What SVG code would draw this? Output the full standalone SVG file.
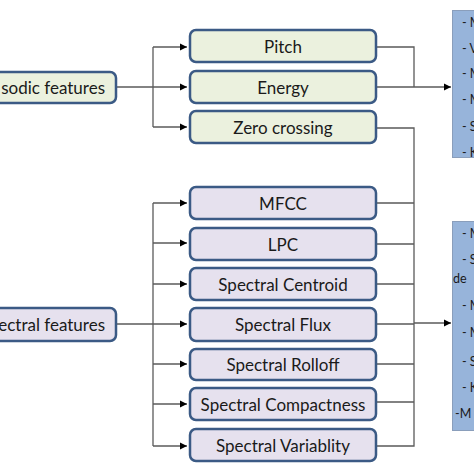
<svg xmlns="http://www.w3.org/2000/svg" width="474" height="474" viewBox="0 0 474 474">
<defs>
<marker id="arr" markerWidth="8" markerHeight="8" refX="7" refY="4" orient="auto" markerUnits="userSpaceOnUse">
<path d="M0,0.5 L7,4 L0,7.5 Z" fill="#000"/>
</marker>
<style>
.g{fill:#EBF1DE;stroke:#3B5A85;stroke-width:2.5}
.p{fill:#E6E1EE;stroke:#3B5A85;stroke-width:2.5}
.b{fill:#97B4DA;stroke:#8A9EBB;stroke-width:1}
.t{font-family:Lato,"Open Sans",sans-serif;font-size:17px;fill:#1a1a1a;text-anchor:middle}
.tl{font-family:Lato,"Open Sans",sans-serif;font-size:17px;fill:#1a1a1a;text-anchor:end}
.s{font-family:Lato,"Open Sans",sans-serif;font-size:12.5px;fill:#1a1a1a}
.c{fill:none;stroke:#5a5a5a;stroke-width:1.3}
.a{fill:none;stroke:#5a5a5a;stroke-width:1.3;marker-end:url(#arr)}
</style>
</defs>
<g id="connectors">
<path class="a" d="M117,87 H187"/>
<path class="c" d="M153,47 V127"/>
<path class="a" d="M153,47 H187"/>
<path class="a" d="M153,127 H187"/>
<path class="a" d="M117,324 H187"/>
<path class="c" d="M153,203 V446"/>
<path class="a" d="M153,203 H187"/>
<path class="a" d="M153,243 H187"/>
<path class="a" d="M153,284 H187"/>
<path class="a" d="M153,364 H187"/>
<path class="a" d="M153,404 H187"/>
<path class="a" d="M153,446 H187"/>
<path class="c" d="M377,47 H414 V87 M377,87 H414"/>
<path class="a" d="M414,87 H451"/>
<path class="c" d="M377,128 H414 V446 H377 M377,203 H414 M377,244 H414 M377,284 H414 M377,324 H414 M377,364 H414 M377,402 H414"/>
<path class="a" d="M414,323 H451"/>
</g>
<g id="prosodic"><rect class="g" x="-10" y="72" width="126" height="31" rx="6"/><text class="tl" x="105" y="94">sodic features</text></g>
<g id="spectral"><rect class="p" x="-10" y="308" width="126" height="33" rx="6"/><text class="tl" x="105" y="331">ectral features</text></g>
<g id="pitch"><rect class="g" x="190" y="30" width="186" height="32" rx="6"/><text class="t" x="283" y="53">Pitch</text></g>
<g id="energy"><rect class="g" x="190" y="71" width="186" height="32" rx="6"/><text class="t" x="283" y="94">Energy</text></g>
<g id="zero"><rect class="g" x="190" y="111" width="186" height="32" rx="6"/><text class="t" x="283" y="134">Zero crossing</text></g>
<g id="mfcc"><rect class="p" x="190" y="187" width="186" height="32" rx="6"/><text class="t" x="283" y="210">MFCC</text></g>
<g id="lpc"><rect class="p" x="190" y="228" width="186" height="32" rx="6"/><text class="t" x="283" y="251">LPC</text></g>
<g id="centroid"><rect class="p" x="190" y="268" width="186" height="32" rx="6"/><text class="t" x="283" y="291">Spectral Centroid</text></g>
<g id="flux"><rect class="p" x="190" y="308" width="186" height="33" rx="6"/><text class="t" x="283" y="331">Spectral Flux</text></g>
<g id="rolloff"><rect class="p" x="190" y="349" width="186" height="31" rx="6"/><text class="t" x="283" y="371">Spectral Rolloff</text></g>
<g id="compactness"><rect class="p" x="190" y="388" width="186" height="32" rx="6"/><text class="t" x="283" y="411">Spectral Compactness</text></g>
<g id="variability"><rect class="p" x="190" y="429" width="186" height="32" rx="6"/><text class="t" x="283" y="452">Spectral Variablity</text></g>
<g id="stats1"><rect class="b" x="452.5" y="10.5" width="30" height="147"/>
<text class="s" x="462" y="27">- M</text>
<text class="s" x="462" y="53">- V</text>
<text class="s" x="462" y="78">- M</text>
<text class="s" x="462" y="104">- M</text>
<text class="s" x="462" y="131">- S</text>
<text class="s" x="462" y="157">- K</text>
</g>
<g id="stats2"><rect class="b" x="452.5" y="221.5" width="30" height="209"/>
<text class="s" x="462" y="238">- M</text>
<text class="s" x="462" y="264">- S</text>
<text class="s" x="453" y="283">de</text>
<text class="s" x="462" y="310">- M</text>
<text class="s" x="462" y="337">- M</text>
<text class="s" x="462" y="366">- S</text>
<text class="s" x="462" y="392">- K</text>
<text class="s" x="455" y="418">-M</text>
</g>
</svg>
